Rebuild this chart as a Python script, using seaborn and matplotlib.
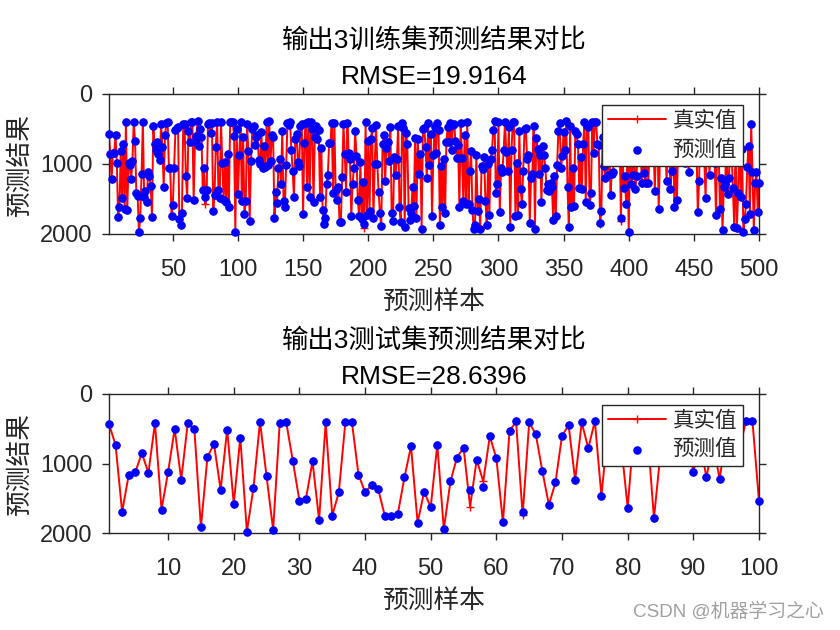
import pandas as pd
import matplotlib
matplotlib.use('Agg')
import matplotlib.pyplot as plt
import seaborn as sns

# 训练集预测值 (500 samples, the ones behind the legend are guessed)
train_pred = [
    571, 862, 1219, 848, 838, 581, 990, 1752, 1619, 819, 1481, 710, 1643, 395, 1657, 981, 1014, 1219, 962, 395,
    667, 1419, 1457, 1971, 1771, 1138, 395, 1471, 1381, 1548, 1119, 1167, 1310, 1757, 462, 710, 800, 681, 862, 948,
    424, 762, 1324, 590, 414, 395, 1062, 1062, 1748, 1586, 1062, 514, 490, 467, 1790, 1876, 1695, 433, 428, 1167,
    1481, 533, 686, 395, 405, 1514, 690, 600, 386, 748, 495, 610, 1376, 1062, 1471, 1371, 424, 419, 562, 414,
    1667, 1448, 752, 395, 1376, 1481, 395, 990, 1514, 976, 1538, 862, 1619, 405, 395, 405, 605, 1971, 505, 1433,
    876, 405, 1529, 614, 1719, 1524, 433, 819, 1819, 957, 505, 462, 724, 610, 586, 943, 1005, 538, 1062, 748,
    1038, 405, 1014, 390, 962, 586, 610, 1776, 1400, 1552, 1062, 933, 1290, 533, 1524, 1619, 1010, 419, 443, 395,
    795, 1105, 1476, 648, 567, 967, 1033, 452, 428, 1714, 705, 410, 1324, 405, 1467, 395, 500, 1548, 610, 452,
    648, 514, 1471, 767, 1662, 1862, 1776, 1286, 1157, 705, 705, 410, 1419, 410, 1371, 1514, 1324, 1833, 1824, 1190,
    433, 852, 1395, 414, 848, 929, 1748, 1281, 1057, 533, 881, 1519, 1743, 976, 1786, 1257, 1857, 405, 1729, 671,
    1671, 648, 490, 1776, 1005, 443, 1005, 1405, 1700, 1886, 719, 586, 1243, 767, 681, 962, 467, 1695, 1814, 895,
    1157, 929, 462, 1619, 1833, 410, 481, 1900, 552, 714, 1624, 1800, 1705, 1324, 1595, 624, 1767, 648, 1143, 857,
    1924, 500, 481, 757, 1205, 410, 1014, 576, 1748, 876, 467, 843, 410, 510, 1876, 1029, 1610, 929, 1705, 686,
    471, 686, 410, 795, 443, 433, 671, 919, 729, 1610, 419, 919, 1529, 586, 1576, 405, 1567, 1095, 814, 1652,
    1929, 1876, 876, 1676, 1500, 1929, 1033, 1076, 900, 1533, 1876, 995, 1729, 929, 805, 510, 390, 1419, 1286, 405,
    1686, 1052, 1110, 805, 400, 829, 1100, 476, 1905, 795, 405, 400, 1738, 981, 1729, 524, 1362, 1576, 1095, 505,
    490, 933, 871, 1843, 1195, 1148, 457, 1924, 633, 790, 1143, 871, 1548, 748, 876, 1062, 1376, 1281, 1386, 1276,
    1324, 1800, 1171, 1743, 1014, 529, 419, 1052, 886, 538, 800, 386, 1333, 1895, 452, 1610, 1062, 1600, 524, 576,
    719, 1348, 905, 1357, 719, 395, 1538, 443, 467, 1586, 1419, 395, 848, 405, 405, 719, 729, 1838, 1667, 610,
    1029, 1195, 700, 1157, 520, 1443, 1138, 1119, 640, 880, 450, 760, 590, 1767, 480, 1338, 1167, 1576, 820, 1967,
    610, 1286, 1157, 470, 1362, 1167, 730, 900, 560, 1276, 680, 1124, 1276, 530, 1276, 790, 440, 950, 620, 1390,
    710, 480, 1648, 860, 530, 670, 930, 450, 1248, 760, 590, 1362, 1095, 480, 1610, 830, 1514, 640, 900, 430,
    760, 560, 980, 690, 510, 1110, 800, 450, 620, 920, 530, 740, 1681, 1243, 480, 850, 610, 960, 1481, 550,
    720, 1162, 440, 880, 650, 980, 1733, 580, 760, 1648, 1200, 1943, 1324, 1290, 620, 1433, 1200, 540, 830, 1348,
    1895, 690, 1909, 1410, 560, 1467, 780, 1967, 1790, 1571, 1038, 748, 1719, 428, 1110, 1943, 1276, 1119, 1681, 1276,
]

# 测试集预测值 (100 samples)
test_pred = [
    434, 733, 1696, 1166, 1128, 848, 1137, 419, 1663, 1123,
    501, 1234, 414, 506, 1918, 901, 723, 1378, 511, 1581,
    627, 1981, 1354, 400, 1186, 1952, 424, 410, 964, 1533,
    1504, 969, 1812, 410, 1749, 1417, 405, 405, 1161, 1412,
    1311, 1369, 1749, 1749, 1720, 1200, 752, 1850, 1407, 1629,
    728, 1947, 1258, 916, 771, 1378, 945, 1340, 607, 925,
    1846, 535, 395, 1701, 410, 578, 1108, 1595, 1272, 602,
    448, 1239, 410, 781, 390, 1465, 500, 800, 723, 1634,
    458, 800, 535, 1788, 848, 500, 700, 900, 600, 1123,
    700, 1200, 700, 1224, 600, 800, 814, 390, 385, 1542,
]

# 真实值 only differs visibly from the prediction at these samples
train_true_idx = [75, 197, 378, 394]
train_true_val = [1576, 1920, 1860, 1820]
test_true_idx = [56, 58, 64]
test_true_val = [1619, 1258, 1740]

train_x_ticks = [50, 100, 150, 200, 250, 300, 350, 400, 450, 500]
test_x_ticks = [10, 20, 30, 40, 50, 60, 70, 80, 90, 100]
y_ticks = [0, 1000, 2000]


def make_table(pred, true_idx, true_val):
    df = pd.DataFrame({'sample': range(1, len(pred) + 1), 'pred': pred})
    df['true'] = df['pred']
    df.loc[df['sample'].isin(true_idx), 'true'] = true_val
    return df


sns.set_theme(style='ticks')
plt.rcParams['font.family'] = ['Liberation Sans', 'Noto Sans CJK SC']
plt.rcParams['axes.edgecolor'] = '#262626'
plt.rcParams['axes.linewidth'] = 1.0
plt.rcParams['xtick.color'] = '#262626'
plt.rcParams['ytick.color'] = '#262626'
plt.rcParams['axes.labelcolor'] = '#262626'

fig = plt.figure(figsize=(8.4, 6.3), dpi=100)
ax1 = fig.add_axes([109 / 840, 1 - 234 / 630, 650 / 840, 140 / 630])
ax2 = fig.add_axes([109 / 840, 1 - 533 / 630, 650 / 840, 139 / 630])


def draw(ax, df, ticks, title):
    sns.lineplot(data=df, x='sample', y='true', ax=ax, color='#ff0000', linewidth=1.4,
                 marker='+', markersize=6, markeredgewidth=1, markeredgecolor='#ff0000',
                 sort=False, errorbar=None, label='真实值')
    sns.scatterplot(data=df, x='sample', y='pred', ax=ax, color='#0000ff', s=38,
                    linewidth=0, zorder=3, label='预测值', clip_on=False)
    ax.set_xlim(1, len(df))
    ax.set_ylim(2000, 0)
    ax.set_xticks(ticks)
    ax.set_yticks(y_ticks)
    ax.tick_params(direction='out', top=True, right=True, length=5, width=1, labelsize=17)
    ax.tick_params(axis='x', pad=13)
    ax.tick_params(axis='y', pad=7)
    ax.set_xlabel('预测样本', fontsize=18.5, labelpad=6.5)
    ax.set_ylabel('预测结果', fontsize=18.5, labelpad=5.5)
    ax.set_title(title, fontsize=19, color='black', pad=7, linespacing=1.65)
    ax.legend(loc='upper right', bbox_to_anchor=(0.975, 0.92), borderaxespad=0,
              fancybox=False, framealpha=1, edgecolor='#262626', fontsize=15.5,
              handlelength=2.7, labelspacing=0.35, borderpad=0.27, handletextpad=0.3)


draw(ax1, make_table(train_pred, train_true_idx, train_true_val), train_x_ticks,
     '输出3训练集预测结果对比\nRMSE=19.9164')
draw(ax2, make_table(test_pred, test_true_idx, test_true_val), test_x_ticks,
     '输出3测试集预测结果对比\nRMSE=28.6396')

fig.text(824 / 840, 1 - 612 / 630, 'CSDN @机器学习之心', color='#a0a0a0', fontsize=13.6,
         ha='right', va='center')

fig.savefig('out.png', dpi=100)
